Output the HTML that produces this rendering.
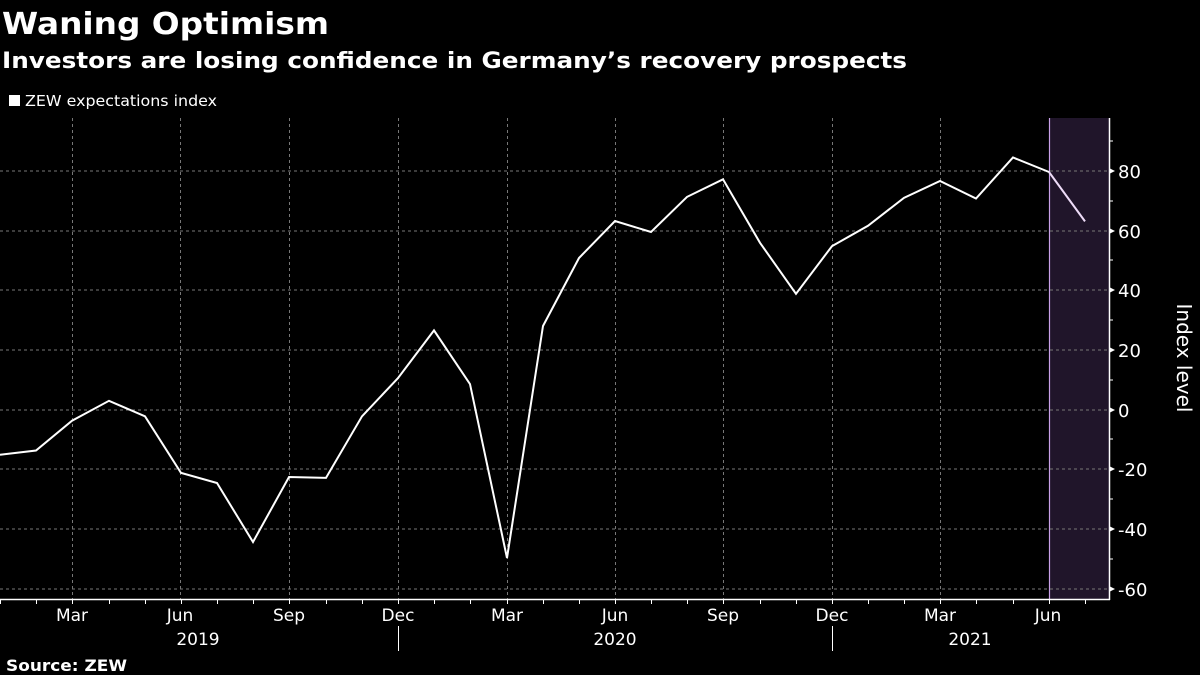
<!DOCTYPE html>
<html><head><meta charset="utf-8"><style>
html,body{margin:0;padding:0;background:#000;}
svg{display:block;font-family:"DejaVu Sans","Liberation Sans",sans-serif;}
</style></head><body>
<svg width="1200" height="675" viewBox="0 0 1200 675" xmlns="http://www.w3.org/2000/svg">
<rect width="1200" height="675" fill="#000"/>
<text x="2" y="34" fill="#fff" font-size="30" font-weight="bold" textLength="327" lengthAdjust="spacingAndGlyphs">Waning Optimism</text>
<text x="2" y="68" fill="#fff" font-size="22" font-weight="bold" textLength="905" lengthAdjust="spacingAndGlyphs">Investors are losing confidence in Germany’s recovery prospects</text>
<rect x="9" y="95" width="11" height="11" fill="#fff"/>
<text x="25" y="106" fill="#fff" font-size="15" textLength="192" lengthAdjust="spacingAndGlyphs">ZEW expectations index</text>
<!-- shaded -->
<rect x="1049" y="118" width="60" height="481" fill="#20152a"/>
<line x1="1049.5" y1="118" x2="1049.5" y2="599" stroke="#c9a0e8" stroke-width="1.2"/>
<!-- grid -->
<g stroke="#777" stroke-width="1" stroke-dasharray="3,3">
<line x1="0" y1="171" x2="1109" y2="171"/>
<line x1="0" y1="231" x2="1109" y2="231"/>
<line x1="0" y1="290" x2="1109" y2="290"/>
<line x1="0" y1="350" x2="1109" y2="350"/>
<line x1="0" y1="410" x2="1109" y2="410"/>
<line x1="0" y1="469" x2="1109" y2="469"/>
<line x1="0" y1="529" x2="1109" y2="529"/>
<line x1="0" y1="589" x2="1109" y2="589"/>
<line x1="72.5" y1="118" x2="72.5" y2="599"/>
<line x1="180.5" y1="118" x2="180.5" y2="599"/>
<line x1="289.5" y1="118" x2="289.5" y2="599"/>
<line x1="398.5" y1="118" x2="398.5" y2="599"/>
<line x1="507.5" y1="118" x2="507.5" y2="599"/>
<line x1="615.5" y1="118" x2="615.5" y2="599"/>
<line x1="723.5" y1="118" x2="723.5" y2="599"/>
<line x1="832.5" y1="118" x2="832.5" y2="599"/>
<line x1="940.5" y1="118" x2="940.5" y2="599"/>
</g>
<!-- axes -->
<line x1="0" y1="599.5" x2="1110" y2="599.5" stroke="#fff" stroke-width="1.5"/>
<line x1="1109.5" y1="118" x2="1109.5" y2="600" stroke="#fff" stroke-width="1.5"/>
<g stroke="#fff" stroke-width="1">
<line x1="0.5" y1="599" x2="0.5" y2="604"/><line x1="36.5" y1="599" x2="36.5" y2="604"/><line x1="72.5" y1="599" x2="72.5" y2="604"/><line x1="109.5" y1="599" x2="109.5" y2="604"/><line x1="145.5" y1="599" x2="145.5" y2="604"/><line x1="181.5" y1="599" x2="181.5" y2="604"/><line x1="217.5" y1="599" x2="217.5" y2="604"/><line x1="253.5" y1="599" x2="253.5" y2="604"/><line x1="289.5" y1="599" x2="289.5" y2="604"/><line x1="326.5" y1="599" x2="326.5" y2="604"/><line x1="362.5" y1="599" x2="362.5" y2="604"/><line x1="398.5" y1="599" x2="398.5" y2="604"/><line x1="434.5" y1="599" x2="434.5" y2="604"/><line x1="470.5" y1="599" x2="470.5" y2="604"/><line x1="507.5" y1="599" x2="507.5" y2="604"/><line x1="543.5" y1="599" x2="543.5" y2="604"/><line x1="579.5" y1="599" x2="579.5" y2="604"/><line x1="615.5" y1="599" x2="615.5" y2="604"/><line x1="651.5" y1="599" x2="651.5" y2="604"/><line x1="687.5" y1="599" x2="687.5" y2="604"/><line x1="723.5" y1="599" x2="723.5" y2="604"/><line x1="760.5" y1="599" x2="760.5" y2="604"/><line x1="796.5" y1="599" x2="796.5" y2="604"/><line x1="832.5" y1="599" x2="832.5" y2="604"/><line x1="868.5" y1="599" x2="868.5" y2="604"/><line x1="904.5" y1="599" x2="904.5" y2="604"/><line x1="940.5" y1="599" x2="940.5" y2="604"/><line x1="976.5" y1="599" x2="976.5" y2="604"/><line x1="1013.5" y1="599" x2="1013.5" y2="604"/><line x1="1049.5" y1="599" x2="1049.5" y2="604"/><line x1="1085.5" y1="599" x2="1085.5" y2="604"/>
<line x1="1109" y1="141" x2="1113" y2="141"/><line x1="1109" y1="201" x2="1113" y2="201"/><line x1="1109" y1="260" x2="1113" y2="260"/><line x1="1109" y1="320" x2="1113" y2="320"/><line x1="1109" y1="380" x2="1113" y2="380"/><line x1="1109" y1="439" x2="1113" y2="439"/><line x1="1109" y1="499" x2="1113" y2="499"/><line x1="1109" y1="559" x2="1113" y2="559"/>
<line x1="398.5" y1="626" x2="398.5" y2="651"/><line x1="832.5" y1="626" x2="832.5" y2="651"/>
</g>
<g fill="#fff">
<path d="M1109 168 L1115 171 L1109 174Z"/><path d="M1109 228 L1115 231 L1109 234Z"/><path d="M1109 287 L1115 290 L1109 293Z"/><path d="M1109 347 L1115 350 L1109 353Z"/><path d="M1109 407 L1115 410 L1109 413Z"/><path d="M1109 466 L1115 469 L1109 472Z"/><path d="M1109 526 L1115 529 L1109 532Z"/><path d="M1109 586 L1115 589 L1109 592Z"/>
</g>
<g fill="#fff" font-size="18">
<text x="1118" y="178">80</text><text x="1118" y="238">60</text><text x="1118" y="297">40</text><text x="1118" y="357">20</text><text x="1118" y="417">0</text><text x="1118" y="476">-20</text><text x="1118" y="536">-40</text><text x="1118" y="596">-60</text>
</g>
<text transform="translate(1177,358) rotate(90)" fill="#fff" font-size="20" text-anchor="middle">Index level</text>
<g fill="#fff" font-size="17" text-anchor="middle">
<text x="72" y="621">Mar</text><text x="180" y="621">Jun</text><text x="289" y="621">Sep</text><text x="398" y="621">Dec</text><text x="507" y="621">Mar</text><text x="615" y="621">Jun</text><text x="723" y="621">Sep</text><text x="832" y="621">Dec</text><text x="940" y="621">Mar</text><text x="1048" y="621">Jun</text>
<text x="198" y="645">2019</text><text x="615" y="645">2020</text><text x="970" y="645">2021</text>
</g>
<text x="6" y="671" fill="#fff" font-size="16" font-weight="bold" textLength="121" lengthAdjust="spacingAndGlyphs">Source: ZEW</text>
<polyline fill="none" stroke="#fff" stroke-width="2" stroke-linejoin="miter" points="0,454.7 36,450.5 72,420.7 109,400.8 145,416.3 181,472.9 217,483 253,542 289,477 326,477.9 362,416.3 398,378.1 434,330.4 470,384.1 507,558 543,326 579,258 615,221 651,232 687,196.9 723,179.3 760,242.8 796,293.8 832,246.1 868,225.8 904,197.8 940,181 976,198.5 1013,157.5 1049,172"/>
<polyline fill="none" stroke="#eedcf8" stroke-width="2" points="1049,172 1085,221.4"/>
</svg>
</body></html>
